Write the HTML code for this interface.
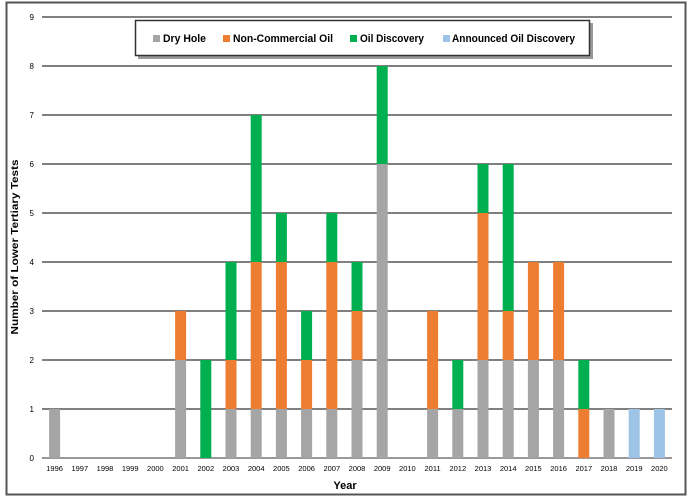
<!DOCTYPE html>
<html><head><meta charset="utf-8"><style>
body{margin:0;background:#fff;font-family:"Liberation Sans",sans-serif}
svg text{font-family:"Liberation Sans",sans-serif}
</style></head><body>
<svg id="c" width="693" height="499">
<rect x="6.5" y="2.5" width="679" height="492" fill="#fff" stroke="#555" stroke-width="2"/>
<g id="grid"></g><g id="bars"></g><g id="labels"></g>
<text x="18" y="247" font-size="10.5" font-weight="bold" text-anchor="middle" textLength="175" lengthAdjust="spacingAndGlyphs" transform="rotate(-90 18 247)">Number of Lower Tertiary Tests</text>
<text x="345" y="489" font-size="11" font-weight="bold" text-anchor="middle">Year</text>
<g>
<rect x="138" y="23" width="455" height="36" fill="#999"/>
<rect x="135.5" y="20.5" width="454" height="35" fill="#fff" stroke="#333" stroke-width="1.5"/>
<rect x="153" y="35" width="7" height="7" fill="#a5a5a5"/>
<text x="163" y="42" font-size="11" font-weight="bold" textLength="43" lengthAdjust="spacingAndGlyphs">Dry Hole</text>
<rect x="223" y="35" width="7" height="7" fill="#ed7d31"/>
<text x="233" y="42" font-size="11" font-weight="bold" textLength="100" lengthAdjust="spacingAndGlyphs">Non-Commercial Oil</text>
<rect x="350" y="35" width="7" height="7" fill="#00b050"/>
<text x="360" y="42" font-size="11" font-weight="bold" textLength="64" lengthAdjust="spacingAndGlyphs">Oil Discovery</text>
<rect x="443" y="35" width="7" height="7" fill="#9dc3e6"/>
<text x="452" y="42" font-size="11" font-weight="bold" textLength="123" lengthAdjust="spacingAndGlyphs">Announced Oil Discovery</text>
</g>
</svg>
<script>
const years=['1996','1997','1998','1999','2000','2001','2002','2003','2004','2005','2006','2007','2008','2009','2010','2011','2012','2013','2014','2015','2016','2017','2018','2019','2020'];
const dryHole=[1,0,0,0,0,2,0,1,1,1,1,1,2,6,0,1,1,2,2,2,2,0,1,0,0];
const nonCommercial=[0,0,0,0,0,1,0,1,3,3,1,3,1,0,0,2,0,3,1,2,2,1,0,0,0];
const oilDiscovery=[0,0,0,0,0,0,2,2,3,1,1,1,1,2,0,0,1,1,3,0,0,1,0,0,0];
const announced=[0,0,0,0,0,0,0,0,0,0,0,0,0,0,0,0,0,0,0,0,0,0,0,1,1];
const yTicks=[0,1,2,3,4,5,6,7,8,9];
const NS='http://www.w3.org/2000/svg';
const x0=42,x1=672,yBase=458,yTop=17;
const yMax=9;
const y=v=>yBase-(yBase-yTop)*v/yMax;
const step=(x1-x0)/years.length;
const xc=i=>x0+step*(i+0.5);
function mk(t,a,p){const e=document.createElementNS(NS,t);for(const k in a)e.setAttribute(k,a[k]);p.appendChild(e);return e;}
const grid=document.getElementById('grid'),bars=document.getElementById('bars'),labels=document.getElementById('labels');
yTicks.forEach(v=>{
  const l=mk('line',{x1:x0,x2:x1,y1:y(v),y2:y(v),stroke:v==0?'#333':'#000','stroke-width':1},grid);
  
  
  const t=mk('text',{x:34,y:y(v)+3,'font-size':8,'text-anchor':'end'},labels);
  t.textContent=v;
  
  
});
const series=[['dry-hole',dryHole,'#a5a5a5'],['non-commercial',nonCommercial,'#ed7d31'],['oil-discovery',oilDiscovery,'#00b050'],['announced',announced,'#9dc3e6']];
years.forEach((yr,i)=>{
  let acc=0;
  series.forEach(([n,arr,c])=>{
    const v=arr[i]; if(!v)return;
    const r=mk('rect',{x:xc(i)-5.5,width:11,y:y(acc+v),height:y(acc)-y(acc+v),fill:c},bars);
    
    
    acc+=v;
  });
  const t=mk('text',{x:xc(i),y:471,'font-size':7.5,'text-anchor':'middle'},labels);
  t.textContent=yr;
  
  
});
</script>
</body></html>
